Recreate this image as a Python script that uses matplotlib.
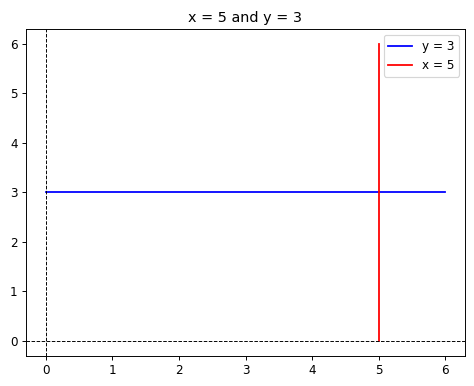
import matplotlib
matplotlib.use("Agg")
import matplotlib.pyplot as plt

hx = [0, 6]
hy = [3, 3]
vx = [5, 5]
vy = [0, 6]

DPI = 86
fig = plt.figure(figsize=(474/DPI, 386/DPI), dpi=DPI)
ax = fig.add_axes([26/474, 1-355.5/386, (465-26)/474, (355.5-29)/386])
ax.plot(hx, hy, color='blue', label='y = 3')
ax.plot(vx, vy, color='red', label='x = 5')
ax.axhline(0, color='black', linestyle='--', linewidth=0.8)
ax.axvline(0, color='black', linestyle='--', linewidth=0.8)
ax.set_xlim(-0.3, 6.3)
ax.set_ylim(-0.3, 6.3)
ax.set_title('x = 5 and y = 3')
ax.legend(loc='upper right')
fig.savefig('out.png', dpi=DPI)
